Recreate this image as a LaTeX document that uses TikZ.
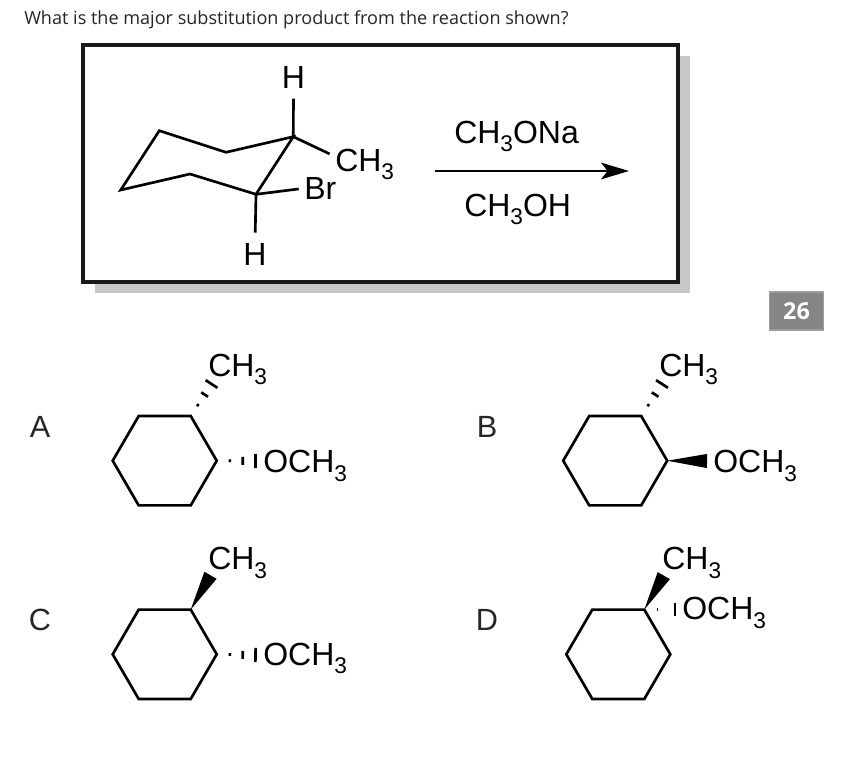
\documentclass[tikz,border=0pt]{standalone}
\usepackage{fontspec}
\setmainfont{Liberation Sans}
\newfontfamily\uifont{Open Sans}
\usetikzlibrary{arrows.meta,calc}
\newcommand{\subthree}{\raisebox{-0.28em}{\fontsize{17}{18}\selectfont 3}}
\newcommand{\hashbond}[2]{%
  \foreach \t/\w in {0.34/1,0.67/3,1/5.3}{
    \draw[hash] ($($(#1)!\t!(#2)$)!\w pt!90:(#1)$) -- ($($(#1)!\t!(#2)$)!\w pt!-90:(#1)$);
  }}
\newcommand{\wedgebond}[2]{%
  \fill[black] (#1) -- ($(#2)!5.3pt!90:(#1)$) -- ($(#2)!5.3pt!-90:(#1)$) -- cycle;}
\begin{document}
\begin{tikzpicture}[x=0.75pt,y=-0.75pt,>={Stealth[length=21pt,width=12.5pt,inset=5pt]}]
\tikzset{
    bond/.style={%
        draw=black, line width=2pt,
        line join=miter
        },
    hash/.style={%
        draw=black, line width=2pt
        },
    chem/.style={%
        font=\fontsize{24}{26}\selectfont,
        inner sep=0pt,
        anchor=base west
        },
    letter/.style={%
        font=\fontsize{23}{25}\selectfont,
        inner sep=0pt,
        text=black!85
        },
}
\useasboundingbox (0,0) rectangle (862,770);
\fill[white] (0,0) rectangle (862,770);
%%%QUESTION
\node[font=\uifont\fontsize{13.55}{15}\selectfont, text=black!85, inner sep=0pt, anchor=base west] (question) at (24,25) {What is the major substitution product from the reaction shown?};
%%%FRAME
\fill[black!22] (95,56) rectangle (690,293);
\draw[fill=white, line width=2.3pt, draw=black!90] (83,45) rectangle (678,282);
%%%BADGE
\node[draw=black!38, line width=1pt, fill=black!48, text=white, font=\uifont\bfseries\fontsize{17.5}{19}\selectfont, minimum width=40.5pt, minimum height=28.5pt, inner sep=0pt] (badge) at (796.5,311) {26};
%%%CHAIR
\coordinate (r1) at (159.3,130.7);
\coordinate (r2) at (226,152.3);
\coordinate (r3) at (293.3,136.7);
\coordinate (r4) at (256,194.3);
\coordinate (r5) at (190,174);
\coordinate (r6) at (120.7,190);
\draw[bond] (r1) -- (r2) -- (r3) -- (r4) -- (r5) -- (r6) -- cycle;
\node[chem, anchor=base] (htop) at (293.5,88.3) {H};
\node[chem, anchor=base] (hbot) at (255,265) {H};
\node[chem] (me) at (335,171) {CH\subthree};
\node[chem] (br) at (304,199.3) {Br};
\draw[bond, shorten >=7.5pt] (r3) -- (htop.south);
\draw[bond, shorten >=7.5pt] (r4) -- (hbot.north);
\draw[bond, shorten >=4.5pt] (r3) -- (me.165);
\draw[bond, shorten >=4pt] (r4) -- (br.west);
%%%REAGENTS
\node[chem] (base) at (454,143) {CH\subthree ONa};
\node[chem] (solvent) at (464,216) {CH\subthree OH};
\coordinate (arrowstart) at (435,171);
\coordinate (arrowend) at (629,171);
\draw[->, line width=2pt] (arrowstart) -- (arrowend);
%%%RINGS
\foreach \n/\cx/\cy in {a/164.7/460.7, b/615.2/460.7, c/164.7/654.3, d/618.3/654.3}{
  \coordinate (\n1) at (\cx-26,\cy-44.7);
  \coordinate (\n2) at (\cx+26,\cy-44.7);
  \coordinate (\n3) at (\cx+52,\cy);
  \coordinate (\n4) at (\cx+26,\cy+44.7);
  \coordinate (\n5) at (\cx-26,\cy+44.7);
  \coordinate (\n6) at (\cx-52,\cy);
  \draw[bond] (\n1) -- (\n2) -- (\n3) -- (\n4) -- (\n5) -- (\n6) -- cycle;
}
%%%CHOICES
\node[letter] (la) at (40,427) {A};
\node[letter] (lb) at (487,427) {B};
\node[letter] (lc) at (40,620) {C};
\node[letter] (ld) at (487,620) {D};
%A
\node[chem] (ame) at (208,376) {CH\subthree};
\node[chem] (aoc) at (263,472.3) {OCH\subthree};
\coordinate (ahm) at (211.5,384);
\coordinate (aho) at (255.5,461);
\hashbond{a2}{ahm}
\hashbond{a3}{aho}
%B
\node[chem] (bme) at (659,376) {CH\subthree};
\node[chem] (boc) at (713,472.3) {OCH\subthree};
\coordinate (bhm) at (662,384);
\coordinate (bwo) at (707,461);
\hashbond{b2}{bhm}
\wedgebond{b3}{bwo}
%C
\node[chem] (cme) at (208,569.3) {CH\subthree};
\node[chem] (coc) at (263,665) {OCH\subthree};
\coordinate (cwm) at (210.5,575.3);
\coordinate (cho) at (255.5,655);
\wedgebond{c2}{cwm}
\hashbond{c3}{cho}
%D
\node[chem] (dme) at (662,569.3) {CH\subthree};
\node[chem] (doc) at (682,619.3) {OCH\subthree};
\coordinate (dwm) at (663.8,575.6);
\wedgebond{d2}{dwm}
\draw[hash] (656.5,609.3) -- (658,609.3);
\draw[hash] (675,602.7) -- (675,616);
\end{tikzpicture}
\end{document}
